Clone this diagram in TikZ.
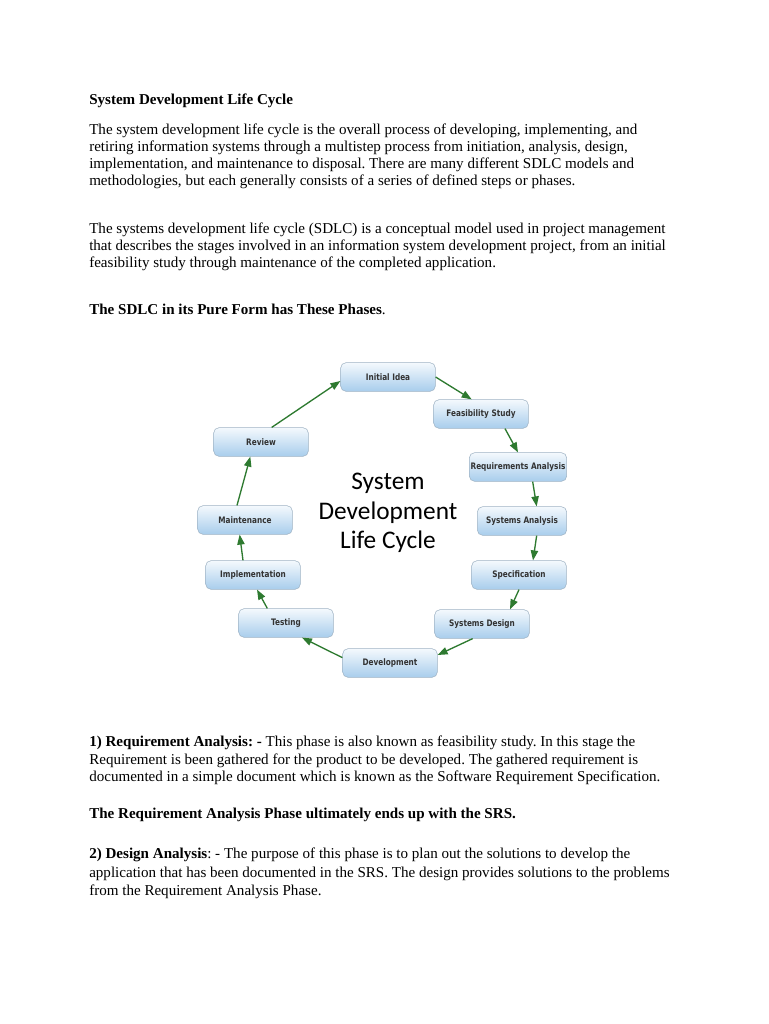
\documentclass[tikz,border=0pt]{standalone}
\usepackage{fontspec}
\setmainfont{Liberation Serif}
\newfontfamily\phasefont[FakeStretch=0.82]{DejaVu Sans}
\newfontfamily\cycletitlefont{Carlito}
\usetikzlibrary{arrows.meta}
\definecolor{phaseline}{HTML}{9FB3C4}
\definecolor{phasetop}{HTML}{F4F9FD}
\definecolor{phasemid}{HTML}{DDEEFA}
\definecolor{phasebot}{HTML}{A8CDEC}
\definecolor{flowgreen}{HTML}{2E7A30}
\frenchspacing
\begin{document}
\begin{tikzpicture}[x=0.75pt, y=-0.75pt,
    phase/.style={draw=phaseline, rounded corners=4pt, top color=phasetop,
        middle color=phasemid, bottom color=phasebot, minimum width=71pt,
        minimum height=21.5pt, inner sep=1pt, text=black!80,
        font=\phasefont\bfseries\fontsize{6.7}{7}\selectfont},
    flow/.style={draw=flowgreen, line width=1pt, -{Triangle[length=7.5pt,width=5.5pt]}},
    body/.style={anchor=base west, inner sep=0pt, font=\fontsize{11.3}{13}\selectfont},
    bodybold/.style={body, font=\bfseries\fontsize{11.3}{13}\selectfont}]
\useasboundingbox[fill=white] (0,0) rectangle (768,1024);

% text above the figure
\node[bodybold] (head) at (89,104) {System Development Life Cycle};
\node[body] (p1a) at (89,134) {The system development life cycle is the overall process of developing, implementing, and};
\node[body] (p1b) at (89,151) {retiring information systems through a multistep process from initiation, analysis, design,};
\node[body] (p1c) at (89,168) {implementation, and maintenance to disposal. There are many different SDLC models and};
\node[body] (p1d) at (89,185) {methodologies, but each generally consists of a series of defined steps or phases.};
\node[body] (p2a) at (89,233) {The systems development life cycle (SDLC) is a conceptual model used in project management};
\node[body] (p2b) at (89,250) {that describes the stages involved in an information system development project, from an initial};
\node[body] (p2c) at (89,267) {feasibility study through maintenance of the completed application.};
\node[body] (phases) at (89,314) {\textbf{The SDLC in its Pure Form has These Phases}.};

% the cycle
\node[font=\cycletitlefont\fontsize{19}{22}\selectfont, align=center] (cycle) at (388,513)
    {System\\Development\\Life Cycle};
\node[phase] (idea) at (388,377) {Initial Idea};
\node[phase] (feas) at (481,414) {Feasibility Study};
\node[phase] (req) at (518,467) {Requirements Analysis};
\node[phase, minimum width=67pt] (sysan) at (522,521) {Systems Analysis};
\node[phase] (spec) at (519,575) {Specification};
\node[phase] (sysdes) at (482,624) {Systems Design};
\node[phase] (dev) at (390,663) {Development};
\node[phase] (test) at (286,623) {Testing};
\node[phase] (impl) at (253,575) {Implementation};
\node[phase] (maint) at (245,520) {Maintenance};
\node[phase] (review) at (261,442) {Review};

\draw[flow] ([xshift=8pt]review.north) -- ([yshift=-3pt]idea.west);
\draw[flow] (idea.east) -- ([xshift=-7pt]feas.north);
\draw[flow] ([xshift=18pt]feas.south) -- (req.north);
\draw[flow] ([xshift=11pt]req.south) -- ([xshift=11pt]sysan.north);
\draw[flow] ([xshift=11pt]sysan.south) -- ([xshift=10.5pt]spec.north);
\draw[flow] (spec.south) -- ([xshift=21pt]sysdes.north);
\draw[flow] ([xshift=-7pt]sysdes.south) -- ([yshift=6pt]dev.east);
\draw[flow] ([yshift=4pt]dev.west) -- ([xshift=12pt]test.south);
\draw[flow] ([xshift=-14pt]test.north) -- ([xshift=3pt]impl.south);
\draw[flow] ([xshift=-7.5pt]impl.north) -- ([xshift=-4pt]maint.south);
\draw[flow] ([xshift=-6pt]maint.north) -- ([xshift=-8pt]review.south);

% text below the figure
\node[body] (s1a) at (89,746) {\textbf{1) Requirement Analysis: -} This phase is also known as feasibility study. In this stage the};
\node[body] (s1b) at (89,764) {Requirement is been gathered for the product to be developed. The gathered requirement is};
\node[body] (s1c) at (89,781) {documented in a simple document which is known as the Software Requirement Specification.};
\node[bodybold] (srs) at (89,818) {The Requirement Analysis Phase ultimately ends up with the SRS.};
\node[body] (s2a) at (89,858) {\textbf{2) Design Analysis}: - The purpose of this phase is to plan out the solutions to develop the};
\node[body] (s2b) at (89,877) {application that has been documented in the SRS. The design provides solutions to the problems};
\node[body] (s2c) at (89,895) {from the Requirement Analysis Phase.};
\end{tikzpicture}
\end{document}
